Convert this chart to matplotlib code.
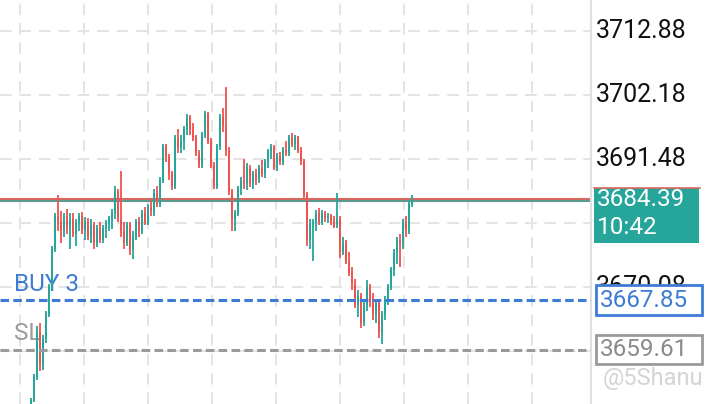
import matplotlib.pyplot as plt
from matplotlib.patches import Rectangle
from matplotlib.transforms import blended_transform_factory
import numpy as np

# candle data (one candle per bar, oldest first)
opens = [3650.5, 3651.2, 3655.0, 3662.5, 3657.0, 3661.5, 3665.5, 3670.0, 3676.5, 3682.0,
         3681.0, 3679.5, 3682.0, 3680.0, 3681.5, 3679.0, 3681.0, 3682.0, 3679.5, 3681.0,
         3678.5, 3680.5, 3677.5, 3680.0, 3678.0, 3680.0, 3680.8, 3681.5, 3682.5, 3686.0,
         3681.5, 3679.5, 3677.5, 3680.5, 3676.5, 3678.5, 3681.0, 3679.5, 3682.5, 3681.0,
         3683.5, 3682.8, 3685.8, 3684.0, 3688.0, 3693.5, 3691.8, 3689.0, 3687.0, 3695.0,
         3693.3, 3694.5, 3696.5, 3698.3, 3696.5, 3695.0, 3692.5, 3690.5, 3695.5, 3699.0,
         3694.5, 3690.5, 3687.0, 3693.5, 3698.5, 3697.0, 3693.0, 3686.0, 3681.5, 3682.5,
         3686.5, 3688.0, 3687.3, 3690.0, 3687.5, 3689.0, 3688.0, 3690.0, 3689.0, 3691.0,
         3692.8, 3693.5, 3690.0, 3692.0, 3691.0, 3693.0, 3692.5, 3695.0, 3694.0, 3695.0,
         3693.0, 3691.0, 3685.5, 3678.0, 3680.5, 3681.0, 3682.5, 3681.0, 3682.5, 3681.8,
         3682.0, 3681.0, 3680.5, 3681.5, 3676.0, 3677.5, 3674.5, 3672.5, 3670.5, 3667.0,
         3668.5, 3664.0, 3667.0, 3670.0, 3667.5, 3665.5, 3667.5, 3662.5, 3665.5, 3668.0,
         3670.0, 3673.0, 3676.0, 3678.0, 3677.5, 3681.0, 3679.5, 3684.0]
highs = [3651.5, 3655.5, 3663.6, 3664.0, 3662.0, 3666.0, 3670.5, 3677.0, 3682.5, 3685.5,
         3682.8, 3682.5, 3683.2, 3682.5, 3682.5, 3681.5, 3682.5, 3682.6, 3681.8, 3681.6,
         3681.5, 3681.0, 3680.5, 3681.0, 3680.5, 3681.3, 3682.0, 3683.2, 3687.0, 3686.5,
         3689.5, 3681.0, 3681.0, 3681.0, 3679.5, 3681.5, 3681.8, 3683.0, 3683.5, 3684.0,
         3685.0, 3686.5, 3687.0, 3688.5, 3694.0, 3694.0, 3692.3, 3689.5, 3695.5, 3696.5,
         3695.5, 3697.0, 3699.0, 3698.8, 3697.5, 3695.5, 3693.0, 3696.0, 3699.5, 3699.3,
         3695.0, 3691.0, 3694.0, 3699.0, 3700.0, 3703.5, 3693.5, 3686.5, 3683.0, 3687.0,
         3688.5, 3691.5, 3690.8, 3690.5, 3689.5, 3689.8, 3690.5, 3691.3, 3691.5, 3693.2,
         3694.0, 3693.9, 3692.5, 3692.7, 3693.5, 3694.5, 3695.5, 3695.8, 3695.5, 3695.3,
         3693.5, 3691.5, 3686.0, 3681.5, 3681.5, 3683.0, 3683.3, 3683.0, 3682.8, 3682.5,
         3682.3, 3682.0, 3685.8, 3682.0, 3678.5, 3678.0, 3676.0, 3673.5, 3671.5, 3669.5,
         3669.0, 3667.5, 3671.2, 3670.5, 3669.0, 3668.0, 3668.0, 3666.0, 3668.5, 3670.5,
         3673.5, 3676.5, 3678.5, 3679.0, 3681.5, 3682.0, 3684.5, 3685.5]
lows = [3650.3, 3650.8, 3654.5, 3656.0, 3656.2, 3660.8, 3665.0, 3669.5, 3676.0, 3679.5,
        3677.5, 3678.5, 3679.0, 3676.5, 3678.5, 3677.0, 3679.5, 3679.0, 3678.0, 3678.0,
        3677.5, 3676.5, 3676.8, 3677.5, 3677.5, 3678.3, 3679.5, 3679.8, 3681.5, 3681.0,
        3678.5, 3676.5, 3677.0, 3675.5, 3674.8, 3678.0, 3678.5, 3679.0, 3680.5, 3680.5,
        3682.0, 3682.0, 3683.5, 3683.5, 3687.5, 3691.0, 3688.0, 3686.3, 3686.5, 3692.5,
        3692.5, 3693.0, 3695.5, 3695.5, 3694.5, 3692.0, 3690.0, 3690.0, 3695.0, 3694.0,
        3690.0, 3686.5, 3686.5, 3693.0, 3696.0, 3692.0, 3685.5, 3679.5, 3679.5, 3682.0,
        3685.5, 3686.5, 3686.3, 3686.8, 3686.5, 3687.2, 3687.5, 3688.5, 3688.3, 3690.0,
        3691.5, 3689.6, 3689.5, 3690.5, 3690.5, 3692.0, 3692.0, 3693.5, 3693.0, 3692.5,
        3690.5, 3685.0, 3677.0, 3676.5, 3674.5, 3679.5, 3680.5, 3680.5, 3681.0, 3680.8,
        3680.5, 3680.0, 3680.0, 3675.0, 3675.5, 3674.0, 3672.0, 3669.5, 3666.5, 3665.0,
        3663.2, 3663.5, 3666.0, 3666.8, 3664.5, 3664.0, 3661.5, 3660.5, 3664.5, 3667.0,
        3669.5, 3672.0, 3674.0, 3673.5, 3676.5, 3678.5, 3679.0, 3683.5]
closes = [3651.2, 3655.0, 3662.5, 3657.0, 3661.5, 3665.5, 3670.0, 3676.5, 3682.0, 3681.0,
          3679.5, 3682.0, 3680.0, 3681.5, 3679.0, 3681.0, 3682.0, 3679.5, 3681.0, 3678.5,
          3680.5, 3677.5, 3680.0, 3678.0, 3680.0, 3680.8, 3681.5, 3682.5, 3686.0, 3681.5,
          3679.5, 3677.5, 3680.5, 3676.5, 3678.5, 3681.0, 3679.5, 3682.5, 3681.0, 3683.5,
          3682.8, 3685.8, 3684.0, 3688.0, 3693.5, 3691.8, 3689.0, 3687.0, 3695.0, 3693.3,
          3694.5, 3696.5, 3698.3, 3696.5, 3695.0, 3692.5, 3690.5, 3695.5, 3699.0, 3694.5,
          3690.5, 3687.0, 3693.5, 3698.5, 3697.0, 3693.0, 3686.0, 3681.5, 3682.5, 3686.5,
          3688.0, 3687.3, 3690.0, 3687.5, 3689.0, 3688.0, 3690.0, 3689.0, 3691.0, 3692.8,
          3693.5, 3690.0, 3692.0, 3691.0, 3693.0, 3692.5, 3695.0, 3694.0, 3695.0, 3693.0,
          3691.0, 3685.5, 3678.0, 3680.5, 3681.0, 3682.5, 3681.0, 3682.5, 3681.8, 3682.0,
          3681.0, 3680.5, 3681.5, 3676.0, 3677.5, 3674.5, 3672.5, 3670.5, 3667.0, 3668.5,
          3664.0, 3667.0, 3670.0, 3667.5, 3665.5, 3667.5, 3662.5, 3665.5, 3668.0, 3670.0,
          3673.0, 3676.0, 3678.0, 3677.5, 3681.0, 3679.5, 3684.0, 3684.39]

grid_prices = [3712.88, 3702.18, 3691.48, 3680.78, 3670.08, 3659.38]
# labels not hidden behind the price boxes
shown_ticks = [3712.88, 3702.18, 3691.48, 3670.08]
bid_price = 3684.39
ask_price = 3684.75
bar_time = '10:42'
buy_price = 3667.85
sl_price = 3659.61
y_lo, y_hi = 3650.52, 3718.06

teal = '#26a69a'
red = '#ef5350'
blue = '#3d7bd6'
grey = '#9a9a9a'

plt.rcParams['font.family'] = ['Roboto', 'DejaVu Sans']

fig = plt.figure(figsize=(7.2, 4.04), dpi=100)
ax = fig.add_axes([0, 0, 591 / 720, 1])
ax.set_xlim(-31 / 3, 560 / 3)
ax.set_ylim(y_lo, y_hi)

# dashed grid
for gx in np.arange(-11 / 3, 560 / 3, 64 / 3):
    ax.axvline(gx, color='#e4e4e4', lw=1.4, ls=(0, (6, 4)), zorder=0)
for gy in grid_prices:
    ax.axhline(gy, color='#e4e4e4', lw=1.4, ls=(0, (6, 4)), zorder=0)

# candles
o = np.array(opens)
c = np.array(closes)
idx = np.arange(len(o))
cols = np.where(c >= o, teal, red)
ax.vlines(idx, lows, highs, colors=cols, lw=1.3, zorder=3)
ax.bar(idx, np.maximum(np.abs(c - o), 0.2), bottom=np.minimum(o, c), width=0.95,
       color=cols, edgecolor='none', zorder=3)

# price lines
ax.axhline(ask_price, color='#d9675f', lw=1.5, zorder=2)
ax.axhline(bid_price, color='#5c9a90', lw=1.5, zorder=2)
ax.axhline(buy_price, color=blue, lw=2.2, ls=(0, (2.8, 1.4)), zorder=4)
ax.axhline(sl_price, color=grey, lw=2.2, ls=(0, (2.8, 1.4)), zorder=4)

tr = blended_transform_factory(ax.transAxes, ax.transData)
ax.text(14 / 591, buy_price + 2.6, 'BUY 3', color=blue, fontsize=17.5, va='center', ha='left',
        transform=tr, zorder=2)
ax.text(14 / 591, sl_price + 2.75, 'SL', color=grey, fontsize=17.5, va='center', ha='left',
        transform=tr, zorder=2)

ax.set_xticks([])
ax.set_yticks([])
for s in ['top', 'left', 'bottom']:
    ax.spines[s].set_visible(False)
ax.spines['right'].set_color('#e0e0e0')
ax.spines['right'].set_linewidth(1.5)

# right price scale
ax2 = fig.add_axes([591 / 720, 0, 129 / 720, 1])
ax2.set_xlim(591, 720)
ax2.set_ylim(y_lo, y_hi)
ax2.axis('off')
for p in shown_ticks:
    ax2.text(596, p, f'{p:.2f}', fontsize=18, color='#111111', va='center', ha='left', zorder=1)

ax2.add_patch(Rectangle((594, 3677.43), 105, 9.2, facecolor=teal, edgecolor='none', zorder=3))
ax2.plot([594, 700], [3686.7, 3686.7], color='#d9675f', lw=1.2, zorder=4)
ax2.text(597, 3684.71, f'{bid_price:.2f}', fontsize=17.5, color='white', va='center', ha='left', zorder=4)
ax2.text(597, 3680.0, bar_time, fontsize=17.5, color='white', va='center', ha='left', zorder=4)

ax2.add_patch(Rectangle((596, buy_price - 2.5), 106, 5.0, facecolor='white', edgecolor=blue,
                        lw=2, zorder=3))
ax2.text(600, buy_price, f'{buy_price:.2f}', fontsize=17.5, color=blue, va='center', ha='left', zorder=4)
ax2.add_patch(Rectangle((596, sl_price - 2.45), 106, 4.9, facecolor='white', edgecolor=grey,
                        lw=2, zorder=3))
ax2.text(600, sl_price, f'{sl_price:.2f}', fontsize=17.5, color='#8a8a8a', va='center', ha='left', zorder=4)

# watermark
fig.text(603 / 720, 1 - 378 / 404, '@5Shanu', fontsize=17, color='#d4d4d4', va='center', ha='left')

fig.savefig('out.png', dpi=100)
